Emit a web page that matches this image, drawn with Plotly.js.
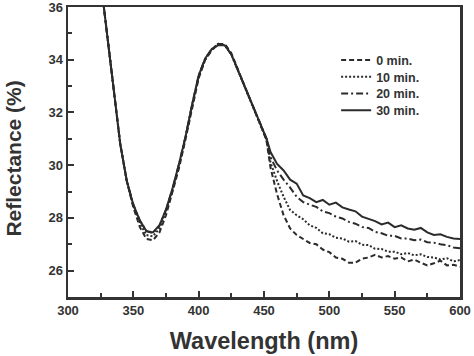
<!DOCTYPE html>
<html>
<head>
<meta charset="utf-8">
<script src="https://cdn.plot.ly/plotly-3.0.1.min.js"></script>
<style>html,body{margin:0;padding:0;background:#fff;}#chart{width:474px;height:356px;}</style>
</head>
<body>
<div id="chart"></div>
<script>
// Shared wavelengths (nm) up to the divergence point
const wlCommon = [325,330,335,340,345,350,355,360,365,370,375,380,385,390,395,400,405,410,415,420,425,430,435,440,445,450];
// Tail wavelengths (nm)
const wlTail = [452,455,460,465,470,475,480,485,490,495,500,505,510,515,520,525,530,535,540,545,550,555,560,565,570,575,580,585,590,595,600];

// Reflectance (%) values before divergence, per series
const r0Common  = [37.0,34.9,32.7,30.8,29.4,28.4,27.65,27.2,27.15,27.45,28.1,28.95,29.9,31.0,32.2,33.3,34.0,34.35,34.6,34.6,34.25,33.65,33.05,32.45,31.8,31.2];
const r10Common = [37.0,34.9,32.7,30.8,29.4,28.45,27.8,27.35,27.3,27.6,28.25,29.05,30.0,31.05,32.25,33.35,34.0,34.4,34.6,34.55,34.2,33.6,33.0,32.45,31.8,31.2];
const r20Common = [37.0,34.9,32.7,30.8,29.4,28.5,27.9,27.5,27.42,27.7,28.3,29.1,30.05,31.1,32.3,33.4,34.05,34.4,34.6,34.55,34.2,33.6,33.0,32.45,31.8,31.2];
const r30Common = [37.0,34.9,32.7,30.8,29.4,28.5,27.9,27.5,27.45,27.72,28.32,29.12,30.05,31.1,32.3,33.4,34.05,34.4,34.55,34.55,34.2,33.6,33.0,32.45,31.8,31.2];

// Tails
const r0Tail  = [30.9,29.9,28.9,28.1,27.6,27.35,27.2,27.05,27.0,26.8,26.7,26.5,26.45,26.3,26.3,26.45,26.5,26.6,26.5,26.55,26.45,26.5,26.35,26.42,26.3,26.2,26.28,26.38,26.2,26.22,26.15];
const r10Tail = [30.95,30.1,29.4,28.8,28.3,28.1,27.95,27.72,27.62,27.42,27.38,27.25,27.22,27.1,27.12,26.98,26.97,26.83,26.82,26.72,26.72,26.62,26.67,26.58,26.62,26.52,26.5,26.42,26.47,26.35,26.4];
const r20Tail = [31.0,30.3,29.8,29.45,29.15,28.8,28.6,28.5,28.42,28.25,28.18,28.05,27.98,27.85,27.78,27.65,27.62,27.47,27.42,27.32,27.32,27.22,27.22,27.15,27.18,27.08,27.06,27.0,26.97,26.88,26.85];
const r30Tail = [31.0,30.5,30.05,29.8,29.45,29.3,28.85,28.75,28.6,28.68,28.5,28.58,28.4,28.32,28.25,28.05,27.98,27.88,27.75,27.82,27.65,27.72,27.6,27.55,27.62,27.45,27.35,27.38,27.28,27.22,27.2];

const seriesNames = ['0 min.','10 min.','20 min.','30 min.'];
const xTicks = [300,350,400,450,500,550,600];
const yTicks = [26,28,30,32,34,36];

const wl = wlCommon.concat(wlTail);
const ys = [r0Common.concat(r0Tail), r10Common.concat(r10Tail), r20Common.concat(r20Tail), r30Common.concat(r30Tail)];
const dashes = ['5px,3px','2px,2px','7px,3px,2px,3px','solid'];
const legendIds = ['legend','legend2','legend3','legend4'];
const legendY = [0.868, 0.810, 0.752, 0.694];

const lineColor = '#2b2b2b';
const traces = ys.map((y,i)=>({
  x: wl, y: y, name: seriesNames[i], type:'scatter', mode:'lines',
  legend: legendIds[i],
  line:{color:lineColor, width:2, dash:dashes[i]}
}));

const fam = 'Liberation Sans, Arial, sans-serif';
const tickFont = {family:fam, size:13, color:'#333', weight:'bold'};

const layout = {
  width:474, height:356,
  margin:{l:68, r:14, t:7, b:59},
  paper_bgcolor:'#fff', plot_bgcolor:'#fff',
  showlegend:true,
  xaxis:{range:[300,600], tickvals:xTicks, ticktext:xTicks.map(String),
    showgrid:false, zeroline:false, showline:true, linecolor:'#333', linewidth:2.5, mirror:true,
    ticks:'inside', ticklen:6, tickwidth:2, tickcolor:'#333',
    minor:{dtick:25, tick0:300, ticks:'inside', ticklen:4, tickwidth:2, tickcolor:'#333', showgrid:false},
    tickfont:tickFont, ticklabeloverflow:'allow',
    title:{text:'Wavelength (nm)', font:{family:fam, size:23.5, color:'#333', weight:'bold'}, standoff:16}},
  yaxis:{range:[25,36], tickvals:yTicks, ticktext:yTicks.map(String),
    showgrid:false, zeroline:false, showline:true, linecolor:'#333', linewidth:2.5, mirror:true,
    ticks:'inside', ticklen:6, tickwidth:2, tickcolor:'#333',
    minor:{dtick:1, tick0:25, ticks:'inside', ticklen:4, tickwidth:2, tickcolor:'#333', showgrid:false},
    tickfont:tickFont, ticklabeloverflow:'allow'},
  annotations:[{text:'Reflectance (%)', xref:'paper', yref:'paper', x:-0.140, y:0.4776,
    xanchor:'center', yanchor:'middle', textangle:-90, showarrow:false,
    font:{family:fam, size:21, color:'#333', weight:'bold'}}]
};
legendIds.forEach((id,i)=>{
  layout[id] = {x:0.684, y:legendY[i], xanchor:'left', yanchor:'top', bgcolor:'rgba(0,0,0,0)',
    font:{family:fam, size:12.5, color:'#333', weight:'bold'}, itemwidth:30};
});

Plotly.newPlot('chart', traces, layout, {displayModeBar:false, staticPlot:true});
</script>
</body>
</html>
